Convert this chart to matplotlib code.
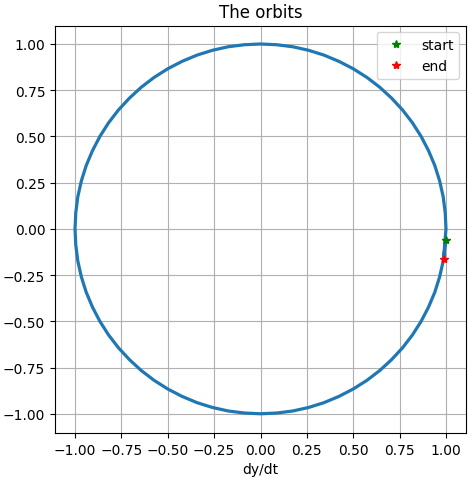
import matplotlib
matplotlib.use("Agg")
import matplotlib.pyplot as plt

# Orbit points (clockwise, from start round to end)
orbit_x = [0.998,
           0.996, 0.985, 0.966, 0.940, 0.906, 0.866, 0.819, 0.766, 0.707,
           0.643, 0.574, 0.500, 0.423, 0.342, 0.259, 0.174, 0.087, 0.000,
           -0.087, -0.174, -0.259, -0.342, -0.423, -0.500, -0.574, -0.643, -0.707,
           -0.766, -0.819, -0.866, -0.906, -0.940, -0.966, -0.985, -0.996, -1.000,
           -0.996, -0.985, -0.966, -0.940, -0.906, -0.866, -0.819, -0.766, -0.707,
           -0.643, -0.574, -0.500, -0.423, -0.342, -0.259, -0.174, -0.087, 0.000,
           0.087, 0.174, 0.259, 0.342, 0.423, 0.500, 0.574, 0.643, 0.707,
           0.766, 0.819, 0.866, 0.906, 0.940, 0.966, 0.985, 0.996, 1.000,
           0.987]
orbit_y = [-0.059,
           -0.087, -0.174, -0.259, -0.342, -0.423, -0.500, -0.574, -0.643, -0.707,
           -0.766, -0.819, -0.866, -0.906, -0.940, -0.966, -0.985, -0.996, -1.000,
           -0.996, -0.985, -0.966, -0.940, -0.906, -0.866, -0.819, -0.766, -0.707,
           -0.643, -0.574, -0.500, -0.423, -0.342, -0.259, -0.174, -0.087, 0.000,
           0.087, 0.174, 0.259, 0.342, 0.423, 0.500, 0.574, 0.643, 0.707,
           0.766, 0.819, 0.866, 0.906, 0.940, 0.966, 0.985, 0.996, 1.000,
           0.996, 0.985, 0.966, 0.940, 0.906, 0.866, 0.819, 0.766, 0.707,
           0.643, 0.574, 0.500, 0.423, 0.342, 0.259, 0.174, 0.087, 0.000,
           -0.162]

start_pt = (0.998, -0.059)
end_pt = (0.987, -0.162)

fig = plt.figure(figsize=(4.74, 4.81), dpi=100)
ax = fig.add_axes([55 / 474, (481 - 434) / 481, 411 / 474, 407.5 / 481])

ax.plot(orbit_x, orbit_y, color="#1f77b4", lw=2.3)
ax.plot([start_pt[0]], [start_pt[1]], "g*", label="start")
ax.plot([end_pt[0]], [end_pt[1]], "r*", label="end")

ax.set_xlim(-1.108, 1.108)
ax.set_ylim(-1.104, 1.1)
ax.set_xticks([-1.0, -0.75, -0.5, -0.25, 0.0, 0.25, 0.5, 0.75, 1.0])
ax.set_yticks([-1.0, -0.75, -0.5, -0.25, 0.0, 0.25, 0.5, 0.75, 1.0])
ax.grid(True)
ax.set_title("The orbits")
ax.set_xlabel("dy/dt")
ax.legend(loc="upper right")

fig.savefig("out.png", dpi=100)
